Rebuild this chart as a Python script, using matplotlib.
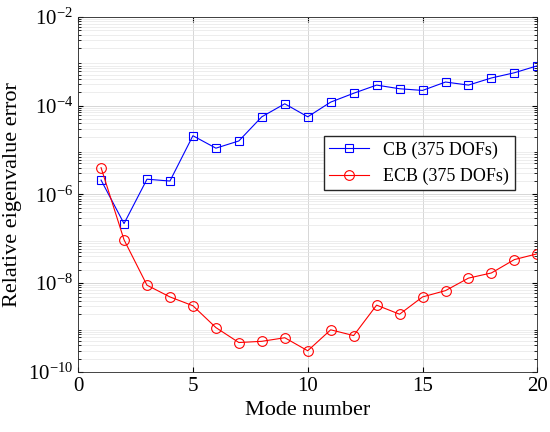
import numpy as np
import matplotlib
matplotlib.use("Agg")
import matplotlib.pyplot as plt
from matplotlib.ticker import LogLocator, NullFormatter

plt.rcParams['font.family'] = ['Liberation Serif', 'DejaVu Serif']
plt.rcParams['mathtext.fontset'] = 'stix'

modes = np.arange(1, 21)
cb_err = [2.1e-6, 2.2e-7, 2.2e-6, 2.0e-6, 2.1e-5, 1.1e-5, 1.6e-5, 5.6e-5, 1.1e-4, 5.6e-5,
          1.2e-4, 1.9e-4, 2.9e-4, 2.4e-4, 2.2e-4, 3.4e-4, 2.9e-4, 4.2e-4, 5.5e-4, 7.9e-4]
ecb_err = [4.0e-6, 9.5e-8, 9.0e-9, 4.9e-9, 3.1e-9, 1.0e-9, 4.6e-10, 4.9e-10, 5.9e-10, 3.0e-10,
           8.9e-10, 6.6e-10, 3.2e-9, 2.0e-9, 4.9e-9, 6.8e-9, 1.3e-8, 1.7e-8, 3.4e-8, 4.6e-8]

fig = plt.figure(figsize=(5.5, 4.32), dpi=100)
ax = fig.add_axes([0.142, 0.139, 0.835, 0.822])

ax.semilogy(modes, cb_err, '-s', color='#0000ff', lw=0.8, ms=6, mfc='none', mew=0.8,
            label='CB (375 DOFs)')
ax.semilogy(modes, ecb_err, '-o', color='#ff0000', lw=0.8, ms=7, mfc='none', mew=0.8,
            label='ECB (375 DOFs)')

ax.set_xlim(0, 20)
ax.set_ylim(1e-10, 1e-2)
ax.set_xticks([0, 5, 10, 15, 20])
ax.set_yticks([1e-10, 1e-8, 1e-6, 1e-4, 1e-2])
ax.yaxis.set_minor_locator(LogLocator(base=10, subs=np.arange(2, 10), numticks=100))
ax.yaxis.set_minor_formatter(NullFormatter())
ax.grid(True, which='major', color='#d0d0d0', lw=0.6)
ax.grid(True, which='minor', axis='y', color='#e6e6e6', lw=0.5)
ax.tick_params(which='both', direction='in', labelsize=15, top=True, right=True)
ax.tick_params(which='minor', length=2.5)
for s in ax.spines.values():
    s.set_color('#262626')
    s.set_linewidth(0.6)

ax.set_xlabel('Mode number', fontsize=16)
ax.set_ylabel('Relative eigenvalue error', fontsize=16)
ax.legend(loc='upper right', bbox_to_anchor=(0.97, 0.69), fontsize=13, fancybox=False,
          edgecolor='#262626', framealpha=1, handlelength=2.2, borderpad=0.3)

fig.savefig('out.png', dpi=100)
